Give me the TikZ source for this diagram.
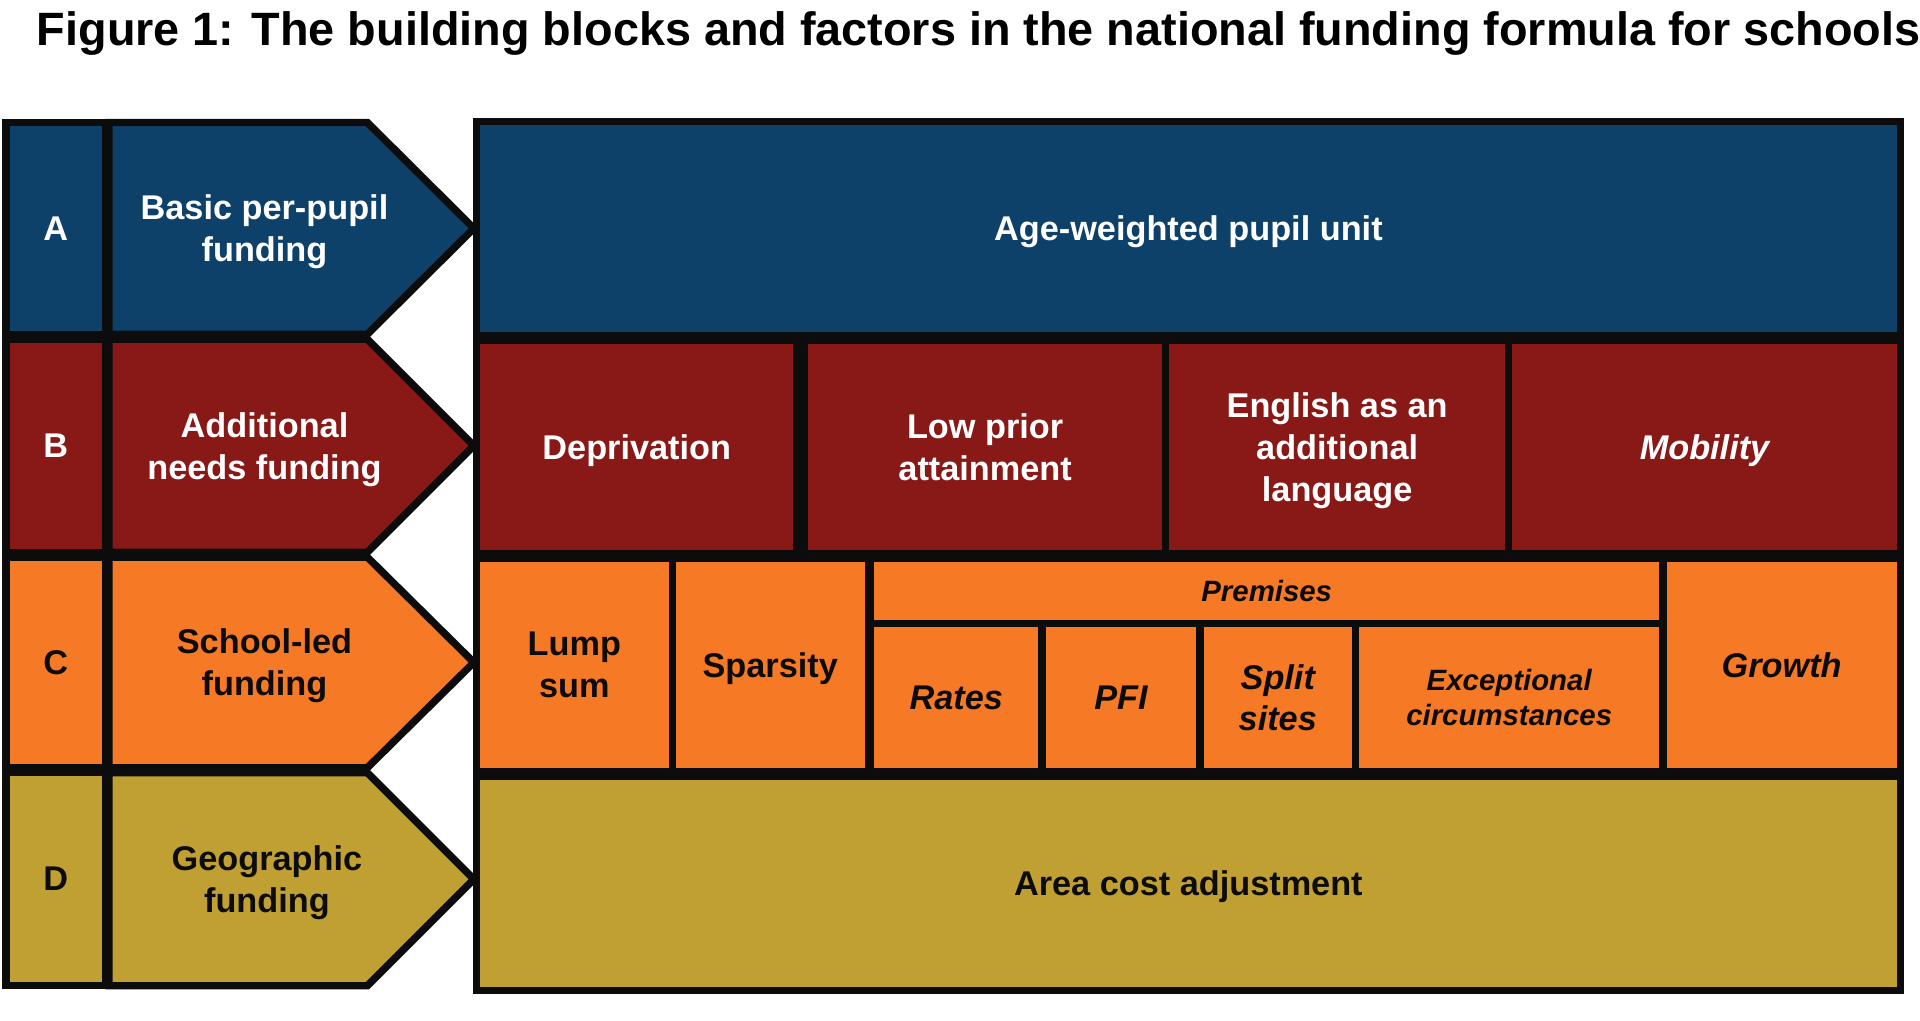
\documentclass[tikz,border=0pt]{standalone}
\usepackage{fontspec}
\setmainfont{Liberation Sans}
\usepackage{xcolor}
\usepackage{tikz}
\definecolor{basiccolor}{RGB}{14,65,106}
\definecolor{needscolor}{RGB}{137,25,23}
\definecolor{schoolcolor}{RGB}{246,121,37}
\definecolor{geocolor}{RGB}{192,160,50}
\definecolor{inkcolor}{RGB}{12,12,12}

\begin{document}
\begin{tikzpicture}[
    x=1pt, y=-1pt,
    cell/.style={draw=inkcolor, line width=6pt, inner sep=0pt, text depth=0pt, align=center, font=\bfseries\fontsize{28}{34.5}\selectfont},
    small/.style={font=\bfseries\itshape\fontsize{24}{28.5}\selectfont},
    lane/.style={draw=inkcolor, line width=6pt},
    lbl/.style={align=center, text depth=0pt, font=\bfseries\fontsize{28}{34.5}\selectfont}
]
    \useasboundingbox (0,0) rectangle (1568,833.8);
    \node[anchor=base west, inner sep=0pt, font=\bfseries\fontsize{38.2}{44}\selectfont] (title) at (30,37) {Figure 1: The building blocks and factors in the national funding formula for schools};

    % letters
    \node[cell, fill=basiccolor, text=white, minimum width=81pt, minimum height=173pt] (letA) at (45.5,186.5) {A};
    \node[cell, fill=needscolor, text=white, minimum width=81pt, minimum height=174pt] (letB) at (45.5,364) {B};
    \node[cell, fill=schoolcolor, text=inkcolor, minimum width=81pt, minimum height=172pt] (letC) at (45.5,541) {C};
    \node[cell, fill=geocolor, text=inkcolor, minimum width=81pt, minimum height=174pt] (letD) at (45.5,718) {D};

    % building blocks
    \draw[lane, fill=basiccolor] (89,100) -- (300,100) -- (387,186.5) -- (300,273) -- (89,273) -- cycle;
    \draw[lane, fill=needscolor] (89,277) -- (300,277) -- (387,364) -- (300,451) -- (89,451) -- cycle;
    \draw[lane, fill=schoolcolor] (89,455) -- (300,455) -- (387,541) -- (300,627) -- (89,627) -- cycle;
    \draw[lane, fill=geocolor] (89,631) -- (300,631) -- (387,718) -- (300,805) -- (89,805) -- cycle;
    \node[lbl, text=white] (basic) at (216,186.5) {Basic per-pupil\\funding};
    \node[lbl, text=white] (needs) at (216,364) {Additional\\needs funding};
    \node[lbl, text=inkcolor] (school) at (216,541) {School-led\\funding};
    \node[lbl, text=inkcolor] (geo) at (218,718) {Geographic\\funding};

    % factors
    \node[cell, fill=basiccolor, text=white, minimum width=1163pt, minimum height=175pt] (awpu) at (970.5,186.5) {Age-weighted pupil unit};

    \node[cell, fill=needscolor, text=white, minimum width=262pt, minimum height=174pt] (depr) at (520,365) {Deprivation};
    \node[cell, fill=needscolor, text=white, minimum width=295pt, minimum height=174pt] (lpa) at (804.5,365) {Low prior\\attainment};
    \node[cell, fill=needscolor, text=white, minimum width=280pt, minimum height=174pt] (eal) at (1092,365) {English as an\\additional\\language};
    \node[cell, fill=needscolor, text=white, minimum width=320pt, minimum height=174pt, font=\bfseries\itshape\fontsize{28}{34.5}\selectfont] (mob) at (1392,365) {Mobility};

    \node[cell, fill=schoolcolor, text=inkcolor, minimum width=160pt, minimum height=174pt] (lump) at (469,543) {Lump\\sum};
    \node[cell, fill=schoolcolor, text=inkcolor, minimum width=160pt, minimum height=174pt] (spars) at (629,543) {Sparsity};
    \node[cell, small, fill=schoolcolor, text=inkcolor, minimum width=647pt, minimum height=53pt] (prem) at (1034.5,482.5) {Premises};
    \node[cell, fill=schoolcolor, text=inkcolor, minimum width=140pt, minimum height=121pt, font=\bfseries\itshape\fontsize{28}{33.5}\selectfont] (rates) at (781,569.5) {Rates};
    \node[cell, fill=schoolcolor, text=inkcolor, minimum width=129pt, minimum height=121pt, font=\bfseries\itshape\fontsize{28}{33.5}\selectfont] (pfi) at (915.5,569.5) {PFI};
    \node[cell, fill=schoolcolor, text=inkcolor, minimum width=127pt, minimum height=121pt, font=\bfseries\itshape\fontsize{28}{33.5}\selectfont] (split) at (1043.5,569.5) {Split\\sites};
    \node[cell, small, fill=schoolcolor, text=inkcolor, minimum width=251pt, minimum height=121pt] (excep) at (1232.5,569.5) {Exceptional\\circumstances};
    \node[cell, fill=schoolcolor, text=inkcolor, minimum width=194pt, minimum height=174pt, font=\bfseries\itshape\fontsize{28}{34.5}\selectfont] (growth) at (1455,543) {Growth};

    \node[cell, fill=geocolor, text=inkcolor, minimum width=1163pt, minimum height=175pt] (aca) at (970.5,721.5) {Area cost adjustment};
\end{tikzpicture}
\end{document}
